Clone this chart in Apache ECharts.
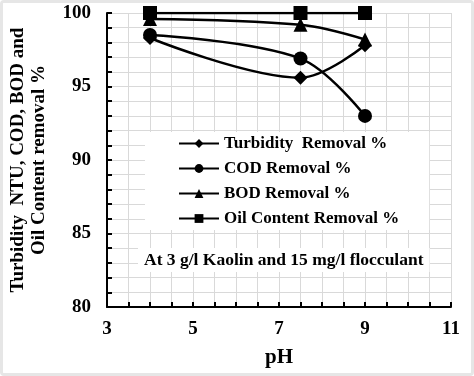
<!DOCTYPE html>
<html>
<head>
<meta charset="utf-8">
<script src="https://cdn.jsdelivr.net/npm/echarts@6/dist/echarts.min.js"></script>
<style>
  html, body { margin: 0; padding: 0; background: #fff; }
  #wrap { width: 474px; height: 376px; box-sizing: border-box; border: 3px solid #e6e6e6; border-radius: 4px; position: relative; overflow: hidden; }
  #chart { position: absolute; left: -3px; top: -3px; width: 474px; height: 376px; }
</style>
</head>
<body>
<div id="wrap"><div id="chart"></div></div>
<script>
// pH values and removal percentages
var phValues = [4, 7.5, 9];
var turbidity = [98.3, 95.6, 97.8];
var cod = [98.5, 96.9, 93.0];
var bod = [99.6, 99.2, 98.2];
var oilContent = [100, 100, 100];

var seriesNames = ['Turbidity  Removal %', 'COD Removal %', 'BOD Removal %', 'Oil Content Removal %'];
var seriesSymbols = ['diamond', 'circle', 'triangle', 'rect'];
var seriesValues = [turbidity, cod, bod, oilContent];

var serif = '"Liberation Serif", "Times New Roman", serif';

function pairs(ys) {
  return phValues.map(function (x, i) { return [x, ys[i]]; });
}

var chart = echarts.init(document.getElementById('chart'));

var series = seriesNames.map(function (name, i) {
  return {
    name: name,
    type: 'line',
    data: pairs(seriesValues[i]),
    smooth: i === 3 ? false : 0.35,
    symbol: seriesSymbols[i],
    symbolSize: 14,
    lineStyle: { color: '#000', width: 2.5 },
    itemStyle: { color: '#000' },
    z: 3
  };
});

var option = {
  animation: false,
  backgroundColor: '#fff',
  grid: { left: 101, right: 23, top: 13, bottom: 69 },
  title: {
    text: 'At 3 g/l Kaolin and 15 mg/l flocculant',
    left: 138,
    top: 248,
    backgroundColor: '#fff',
    padding: [3, 6, 3, 6],
    textStyle: { fontFamily: serif, fontWeight: 'bold', fontSize: 17.5, color: '#000' }
  },
  legend: {
    orient: 'vertical',
    left: 145,
    top: 132,
    padding: [3, 30, 3, 33],
    backgroundColor: '#fff',
    itemWidth: 40,
    itemHeight: 11,
    itemGap: 8,
    data: seriesNames,
    textStyle: { fontFamily: serif, fontWeight: 'bold', fontSize: 17, color: '#000' }
  },
  xAxis: {
    type: 'value',
    min: 3,
    max: 11,
    interval: 2,
    name: 'pH',
    nameLocation: 'middle',
    nameGap: 40,
    nameTextStyle: { fontFamily: serif, fontWeight: 'bold', fontSize: 21, color: '#000' },
    axisLine: { show: true, lineStyle: { color: '#000', width: 2 } },
    axisTick: { show: true, inside: true, length: 5, lineStyle: { color: '#000', width: 2 } },
    minorTick: { show: true, splitNumber: 4, length: 5, lineStyle: { color: '#000', width: 2 } },
    axisLabel: { fontFamily: serif, fontWeight: 'bold', fontSize: 19, color: '#000', margin: 13 },
    splitLine: { show: true, lineStyle: { color: '#d9d9d9', width: 1 } },
    minorSplitLine: { show: true, lineStyle: { color: '#d9d9d9', width: 1 } }
  },
  yAxis: {
    type: 'value',
    min: 80,
    max: 100,
    interval: 5,
    name: 'Turbidity  NTU, COD, BOD and\nOil Content removal %',
    nameLocation: 'middle',
    nameGap: 57,
    nameRotate: 90,
    nameTextStyle: { fontFamily: serif, fontWeight: 'bold', fontSize: 19, color: '#000', lineHeight: 21 },
    axisLine: { show: true, lineStyle: { color: '#000', width: 2 } },
    axisTick: { show: true, inside: true, length: 5, lineStyle: { color: '#000', width: 2 } },
    minorTick: { show: true, splitNumber: 5, length: 5, lineStyle: { color: '#000', width: 2 } },
    axisLabel: { fontFamily: serif, fontWeight: 'bold', fontSize: 19, color: '#000', margin: 16 },
    splitLine: { show: true, lineStyle: { color: '#d9d9d9', width: 1 } },
    minorSplitLine: { show: true, lineStyle: { color: '#d9d9d9', width: 1 } }
  },
  series: series
};

chart.setOption(option);
</script>
</body>
</html>
